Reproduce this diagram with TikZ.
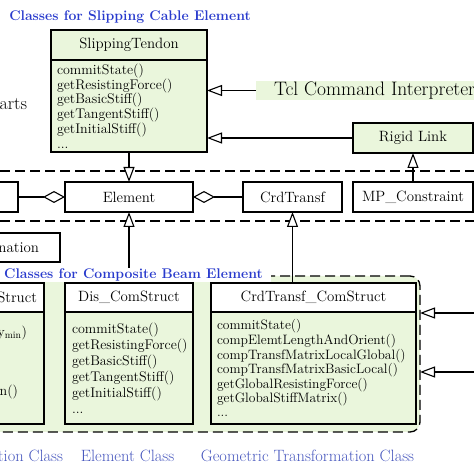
\documentclass[tikz,border=0pt]{standalone}
\usetikzlibrary{positioning}
\usetikzlibrary{arrows.meta}
\definecolor{cablegreen}{RGB}{234,246,220}
\definecolor{titleblue}{RGB}{40,58,205}
\definecolor{labelblue}{RGB}{72,88,190}
\tikzset{node distance=0pt, % boxes of one class touch
every node/.style={outer sep=0pt},
classbox/.style={ % row with the class name
draw, line width=1.1pt, fill=white,
minimum height=30pt,
font=\fontsize{14.9}{16}\selectfont},
greenbox/.style={classbox, fill=cablegreen},
methodbox/.style={ % list of methods
draw, line width=1.1pt, fill=cablegreen,
align=left, inner xsep=6pt,
font=\fontsize{14}{14.8}\selectfont},
inherit/.style={ % open triangle at the parent
-{Triangle[length=15pt,width=11pt,fill=white]},
line width=1.1pt},
aggregate/.style={ % hollow diamond at the owner
-{Diamond[length=22pt,width=12pt,fill=white]},
line width=1.1pt},
sepline/.style={dash pattern=on 10pt off 5pt, line width=1.3pt},
grouptitle/.style={font=\bfseries\fontsize{14}{16}\selectfont, text=titleblue},
classlabel/.style={font=\fontsize{16.4}{18}\selectfont, text=labelblue, inner sep=0pt}}

\begin{document}
\begin{tikzpicture}[x=1pt, y=1pt]
                \useasboundingbox (0,0) rectangle (474,474);
                \clip (0,0) rectangle (474,474);

                % composite beam group and layer lines
                \node[draw, sepline, rounded corners=10pt, fill=cablegreen,
                      minimum width=440pt, minimum height=156pt] (grp) at (200,120) {};
                \draw[sepline] (0,303) -- (474,303);
                \draw[sepline] (0,253) -- (474,253);

                % slipping cable element
                \node[greenbox, minimum width=156pt] (slip) at (129,429) {SlippingTendon};
                \node[methodbox, text width=144pt, minimum height=92pt, below=of slip] (slipbody)
                    {commitState()\\ getResistingForce()\\ getBasicStiff()\\
                     getTangentStiff()\\ getInitialStiff()\\ ...};
                \node[fill=cablegreen, minimum height=17pt, inner xsep=18pt, inner ysep=0.5pt,
                      anchor=west, font=\fontsize{19.5}{21}\selectfont] (tcl) at (256,383.5)
                    {Tcl Command Interpreter};
                \node[anchor=base west, inner sep=0pt, font=\fontsize{18}{20}\selectfont] (parts)
                    at (-0.5,364) {arts};

                % base classes
                \node[classbox, minimum width=128pt] (elem) at (129,277) {Element};
                \node[classbox, minimum width=99pt, right=50pt of elem] (crd) {CrdTransf};
                \node[classbox, minimum width=120pt, right=11pt of crd] (mpc) {MP\_Constraint};
                \node[greenbox, minimum width=120pt, above=29pt of mpc] (rigid) {Rigid Link};
                \node[classbox, minimum width=60pt, left=47pt of elem] (leftcls) {};
                \node[classbox, minimum height=29pt, text width=60pt, align=right,
                      inner xsep=21pt, anchor=east] (comb) at (60,226.5) {nation};

                % composite beam element
                \node[classbox, minimum width=128pt, minimum height=29pt] (dis) at (129,176.5) {Dis\_ComStruct};
                \node[methodbox, text width=114pt, inner xsep=7pt, minimum height=112pt,
                      font=\fontsize{14}{16}\selectfont, below=of dis] (disbody)
                    {commitState()\\ getResistingForce()\\ getBasicStiff()\\
                     getTangentStiff()\\ getInitialStiff()\\ ...};
                \node[classbox, minimum width=205pt, minimum height=29pt, right=18pt of dis] (crdcom)
                    {CrdTransf\_ComStruct};
                \node[methodbox, text width=193pt, minimum height=112pt,
                      font=\fontsize{13.6}{13.4}\selectfont, below=of crdcom] (crdcombody)
                    {commitState()\\ compElemtLengthAndOrient()\\ compTransfMatrixLocalGlobal()\\
                     compTransfMatrixBasicLocal()\\ getGlobalResistingForce()\\
                     getGlobalStiffMatrix()\\ ...};
                \node[classbox, minimum height=29pt, text width=60pt, align=right,
                      inner xsep=7pt, left=21pt of dis] (struct) {Struct};
                \node[methodbox, minimum height=112pt, text width=60pt, inner xsep=7pt,
                      below=of struct] (structbody) {};
                \node[anchor=east, inner sep=0pt, font=\fontsize{14}{16}\selectfont] (ymin)
                    at (27,141) {y\textsubscript{min})};
                \node[anchor=east, inner sep=0pt, font=\fontsize{14}{16}\selectfont] (oncall)
                    at (18,82) {on()};

                % connectors
                \draw[inherit] (slipbody.south) -- (elem.north);
                \draw[inherit] (dis.north) -- (elem.south);
                \draw[inherit] (crdcom.north -| crd.south) -- (crd.south);
                \draw[inherit] (mpc.north) -- (rigid.south);
                \draw[inherit] (tcl.west) -- (tcl.west -| slipbody.east);
                \draw[inherit] (rigid.west) -- (rigid.west -| slipbody.east);
                \draw[aggregate] (leftcls.east) -- (elem.west);
                \draw[aggregate] (crd.west) -- (elem.east);
                \coordinate (ext1) at (480,161);
                \coordinate (ext2) at (480,102);
                \draw[inherit] (ext1) -- (ext1 -| grp.east);
                \draw[inherit] (ext2) -- (ext2 -| grp.east);

                % titles and labels
                \node[grouptitle, fill=white, inner sep=2pt] (cabletitle) at (130,457)
                    {Classes for Slipping Cable Element};
                \node[grouptitle, fill=white, inner xsep=8pt, inner ysep=1pt] (beamtitle) at (133.5,199)
                    {Classes for Composite Beam Element};
                \node[classlabel, anchor=base east] (combclass) at (63,12.5) {tion Class};
                \node[classlabel, anchor=base] (elemclass) at (127.5,12.5) {Element Class};
                \node[classlabel, anchor=base] (geomclass) at (307.5,12.5) {Geometric Transformation Class};
            \end{tikzpicture}
\end{document}
